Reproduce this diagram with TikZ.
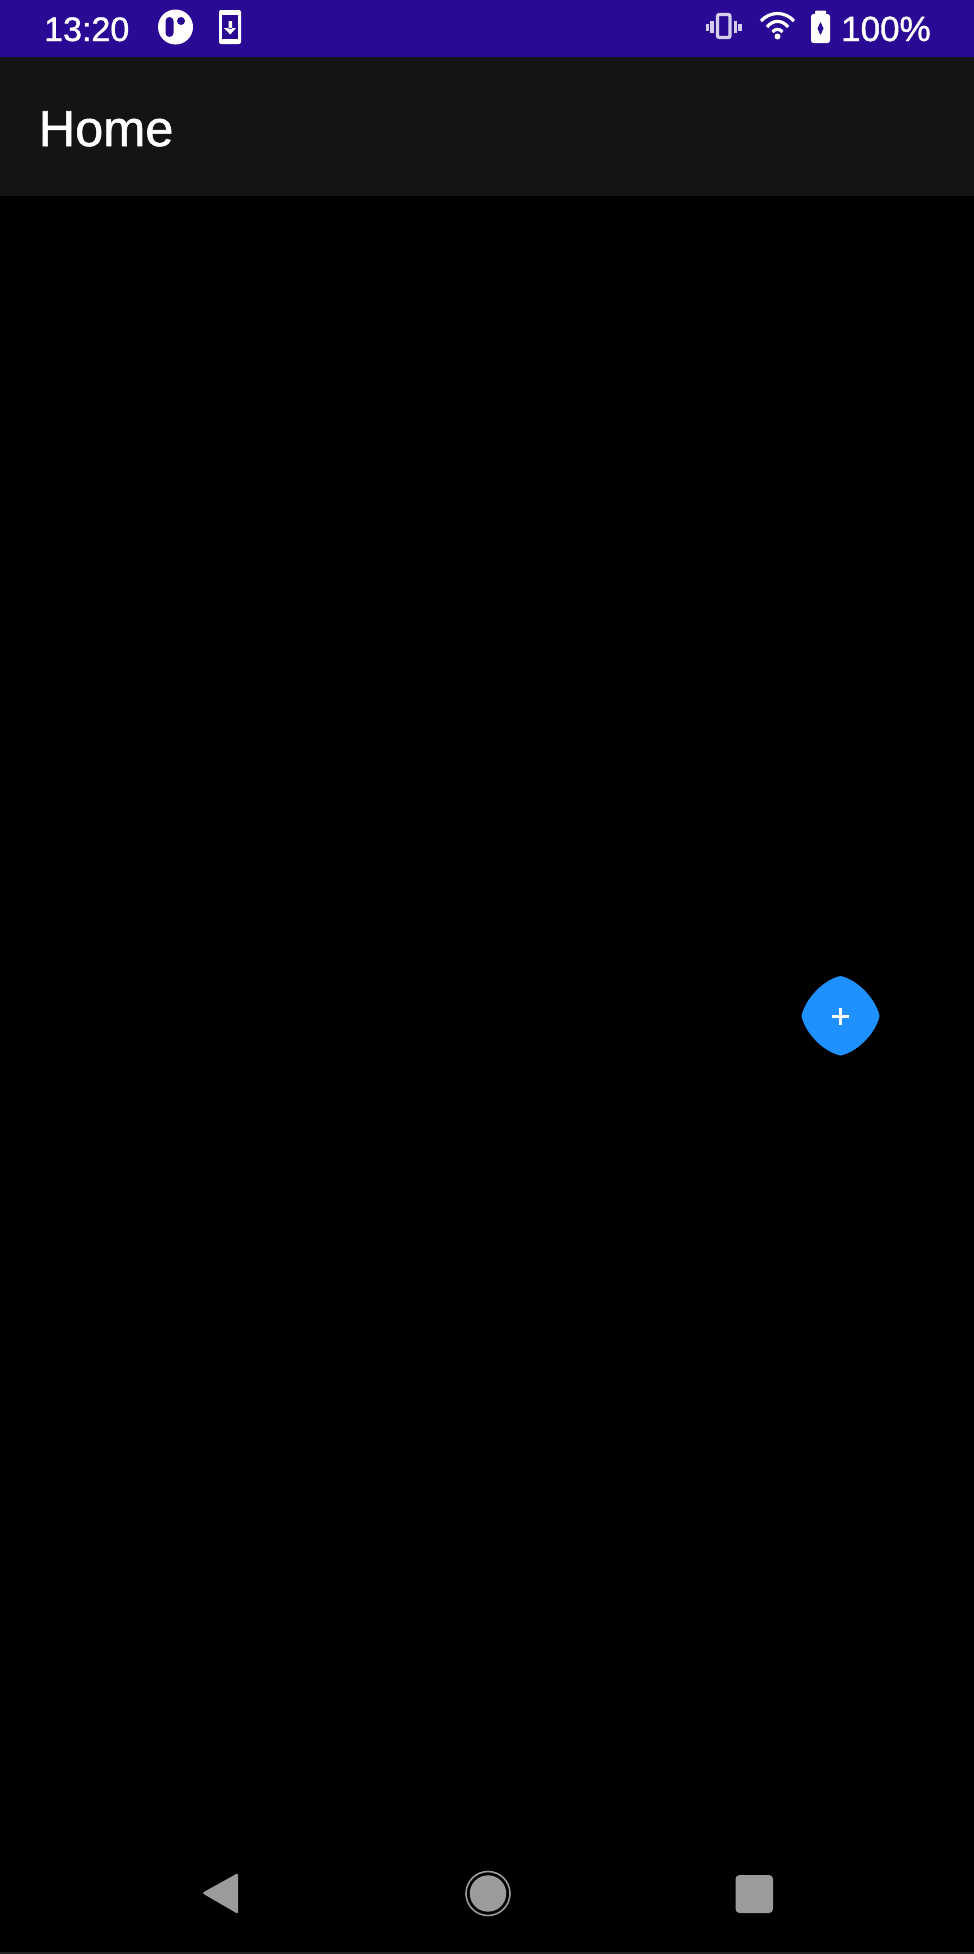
\documentclass[tikz,border=0pt]{standalone}
\usepackage{fontspec}
\setmainfont{Liberation Sans}
\newfontfamily\medfont[FakeBold=1.1]{Liberation Sans}
\definecolor{statusbar}{HTML}{2A0A94}
\definecolor{appbar}{HTML}{141414}
\definecolor{fabblue}{HTML}{1E90FF}
\definecolor{navgray}{HTML}{9B9B9B}
\definecolor{edgeline}{HTML}{222222}
\tikzset{
  sbtext/.style={text=white,inner sep=0pt,anchor=base west,font=\medfont\fontsize{34}{34}\selectfont},
  titletext/.style={text=white,inner sep=0pt,anchor=base west,font=\medfont\fontsize{50.5}{50.5}\selectfont},
}
\begin{document}
\begin{tikzpicture}[x=1pt,y=-1pt]
\useasboundingbox (0,0) rectangle (974,1954);
% bars
\fill[black] (0,0) rectangle (974,1954);
\fill[statusbar] (0,0) rectangle (974,57);
\fill[appbar] (0,57) rectangle (974,196);
\fill[edgeline] (0,1951.5) rectangle (974,1954);
% status bar, left hand
\node[sbtext] (clock) at (44,41) {13:20};
\fill[white] (175.5,27) circle (17.5);
\fill[statusbar,rounded corners=4pt] (165.5,17) rectangle (173.5,37);
\fill[statusbar] (181,21) circle (4);
\fill[white,rounded corners=2pt] (219,10) rectangle (241,44);
\fill[statusbar] (222,14.5) rectangle (238,39);
\fill[white] (228.5,21) rectangle (232,29) (224,28) -- (236,28) -- (230.2,34.5) -- cycle;
% status bar, right hand
\draw[white!80!statusbar,line width=3.4pt,rounded corners=2pt] (717.5,14.5) rectangle (730,37.5);
\draw[white!80!statusbar,line width=3.4pt] (712,21) -- (712,33) (735.5,21) -- (735.5,33)
      (707.5,23.5) -- (707.5,30.5) (740,23.5) -- (740,30.5);
\draw[white,line width=3.2pt] (761,21) .. controls (770,11) and (785,11) .. (794,21)
      (767,27) .. controls (773,19.5) and (782,19.5) .. (788,27)
      (772.5,32) .. controls (775,28.5) and (780,28.5) .. (782.5,32);
\fill[white] (777.5,36.5) circle (3);
\fill[white,rounded corners=2.5pt] (811,14) rectangle (830,43);
\fill[white,rounded corners=1pt] (815,10.5) rectangle (826,17);
\fill[statusbar] (820.5,22) -- (823.5,28.5) -- (820.5,35) -- (817.5,28.5) -- cycle;
\node[sbtext,font=\medfont\fontsize{35}{35}\selectfont] (battery) at (841,41) {100\%};
% app bar
\node[titletext] (title) at (38.5,146) {Home};
% floating button
\fill[fabblue] (840.5,976) .. controls (857.5,979.5) and (876,999) .. (879.5,1016)
      .. controls (876,1033) and (857.5,1052) .. (840.5,1055.5)
      .. controls (823.5,1052) and (805,1033) .. (801.5,1016)
      .. controls (805,999) and (823.5,979.5) .. (840.5,976) -- cycle;
\draw[white,line width=2.4pt] (832,1016.5) -- (848.5,1016.5) (840.5,1008) -- (840.5,1025);
% navigation bar
\fill[navgray,rounded corners=1.5pt] (202,1893) -- (238,1873) -- (238,1914) -- cycle;
\draw[navgray,line width=1.6pt] (488,1893.5) circle (22);
\fill[navgray] (488,1893.5) circle (18.2);
\fill[navgray,rounded corners=4pt] (735.5,1875) rectangle (773,1913);
\end{tikzpicture}
\end{document}
